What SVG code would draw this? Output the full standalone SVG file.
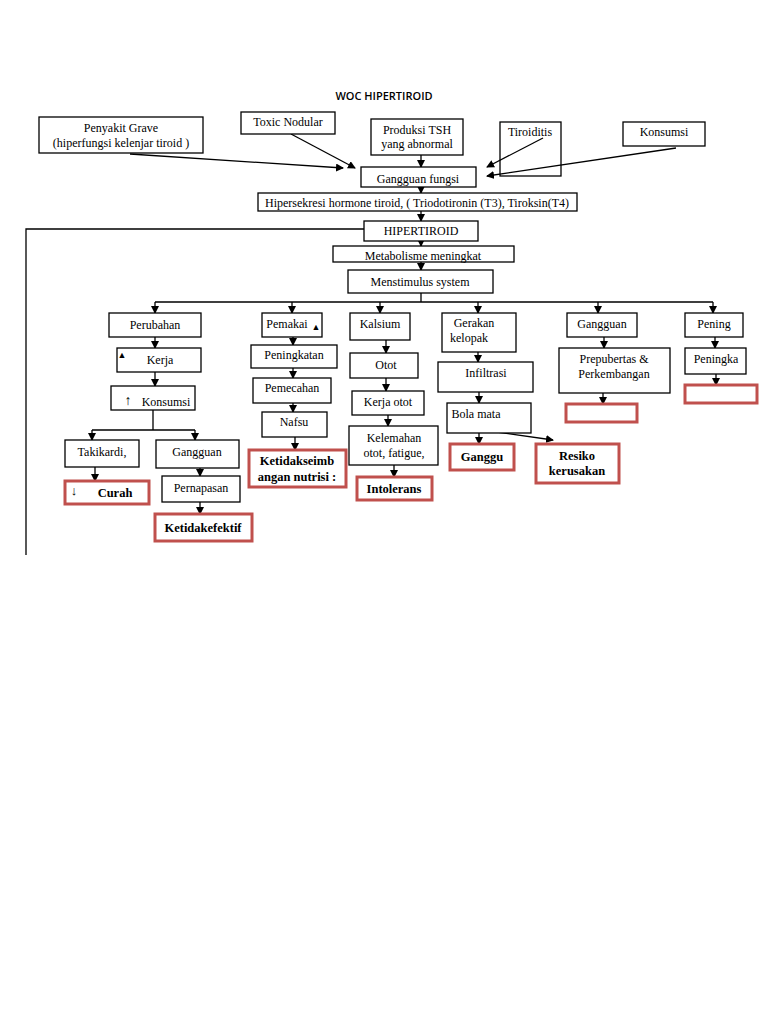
<svg xmlns="http://www.w3.org/2000/svg" width="768" height="1024" viewBox="0 0 768 1024">
<style>
.b{fill:#fff;stroke:#000;stroke-width:1.3}
.r{fill:#fff;stroke:#c0504d;stroke-width:3}
text{font-family:"Liberation Serif",serif;font-size:12px;text-anchor:middle;fill:#000}
.k{font-weight:bold;font-size:12.5px}
.c line,.c path{stroke:#000;stroke-width:1.3;fill:none}
</style>
<defs><marker id="a" markerWidth="8" markerHeight="8" refX="7" refY="4" orient="auto" markerUnits="userSpaceOnUse"><path d="M0,0L8,4L0,8z" fill="#000"/></marker></defs>
<rect width="768" height="1024" fill="#fff"/>
<text x="384" y="100" style="font-family:'Open Sans',sans-serif;font-size:11px;font-weight:600">WOC HIPERTIROID</text>
<g class="c">
<line x1="130" y1="154" x2="343" y2="168" marker-end="url(#a)"/>
<line x1="291" y1="134" x2="355" y2="168" marker-end="url(#a)"/>
<line x1="421" y1="155" x2="421" y2="167" marker-end="url(#a)"/>
<line x1="543" y1="138" x2="487" y2="167" marker-end="url(#a)"/>
<line x1="676" y1="148" x2="487" y2="176" marker-end="url(#a)"/>
<line x1="421" y1="187" x2="421" y2="193" marker-end="url(#a)"/>
<line x1="421" y1="211" x2="421" y2="221" marker-end="url(#a)"/>
<line x1="421" y1="241" x2="421" y2="246" marker-end="url(#a)"/>
<line x1="421" y1="262" x2="421" y2="270" marker-end="url(#a)"/>
<path d="M364,229H26V555"/>
<path d="M421,293V302M155,302H713"/>
<line x1="155" y1="302" x2="155" y2="313" marker-end="url(#a)"/>
<line x1="292" y1="302" x2="292" y2="313" marker-end="url(#a)"/>
<line x1="380" y1="302" x2="380" y2="313" marker-end="url(#a)"/>
<line x1="478" y1="302" x2="478" y2="313" marker-end="url(#a)"/>
<line x1="598" y1="302" x2="598" y2="313" marker-end="url(#a)"/>
<line x1="713" y1="302" x2="713" y2="313" marker-end="url(#a)"/>
<line x1="155" y1="337" x2="155" y2="348" marker-end="url(#a)"/>
<line x1="155" y1="372" x2="155" y2="386" marker-end="url(#a)"/>
<path d="M153,410V430M92,430H195"/>
<line x1="92" y1="430" x2="92" y2="440" marker-end="url(#a)"/>
<line x1="195" y1="430" x2="195" y2="440" marker-end="url(#a)"/>
<line x1="95" y1="467" x2="95" y2="481" marker-end="url(#a)"/>
<line x1="200" y1="468" x2="200" y2="476" marker-end="url(#a)"/>
<line x1="200" y1="502" x2="200" y2="514" marker-end="url(#a)"/>
<line x1="293" y1="337" x2="293" y2="345" marker-end="url(#a)"/>
<line x1="293" y1="368" x2="293" y2="378" marker-end="url(#a)"/>
<line x1="293" y1="403" x2="293" y2="412" marker-end="url(#a)"/>
<line x1="295" y1="437" x2="295" y2="450" marker-end="url(#a)"/>
<line x1="386" y1="340" x2="386" y2="353" marker-end="url(#a)"/>
<line x1="386" y1="378" x2="386" y2="391" marker-end="url(#a)"/>
<line x1="388" y1="415" x2="388" y2="426" marker-end="url(#a)"/>
<line x1="394" y1="465" x2="394" y2="477" marker-end="url(#a)"/>
<line x1="478" y1="352" x2="478" y2="362" marker-end="url(#a)"/>
<line x1="479" y1="392" x2="479" y2="403" marker-end="url(#a)"/>
<line x1="479" y1="433" x2="479" y2="444" marker-end="url(#a)"/>
<line x1="497" y1="432" x2="553" y2="440" marker-end="url(#a)"/>
<line x1="604" y1="337" x2="604" y2="348" marker-end="url(#a)"/>
<line x1="603" y1="393" x2="603" y2="404" marker-end="url(#a)"/>
<line x1="715" y1="337" x2="715" y2="348" marker-end="url(#a)"/>
<line x1="716" y1="374" x2="716" y2="385" marker-end="url(#a)"/>
</g>
<g id="grave"><rect class="b" x="39" y="117" width="164" height="36"/><text x="121" y="132">Penyakit Grave</text><text x="121" y="147">(hiperfungsi kelenjar tiroid )</text></g>
<g id="toxic"><rect class="b" x="241" y="112" width="94" height="22"/><text x="288" y="126">Toxic Nodular</text></g>
<g id="tsh"><rect class="b" x="371" y="119" width="92" height="36"/><text x="417" y="134">Produksi TSH</text><text x="417" y="148">yang abnormal</text></g>
<g id="tiroiditis"><rect class="b" x="500" y="122" width="61" height="54" fill="none" style="fill:none"/><text x="530" y="136">Tiroiditis</text></g>
<g id="konsumsi0"><rect class="b" x="623" y="122" width="82" height="24"/><text x="664" y="136">Konsumsi</text></g>
<g id="fungsi"><rect class="b" x="361" y="167" width="115" height="20"/><text x="418" y="183">Gangguan fungsi</text></g>
<g id="hiper"><rect class="b" x="258" y="193" width="319" height="18"/><text x="417" y="207">Hipersekresi hormone tiroid, ( Triodotironin (T3), Tiroksin(T4)</text></g>
<g id="hipertiroid"><rect class="b" x="364" y="221" width="114" height="20"/><text x="421" y="235">HIPERTIROID</text></g>
<g id="metab"><rect class="b" x="333" y="246" width="181" height="16"/><text x="423" y="260">Metabolisme meningkat</text></g>
<g id="menstim"><rect class="b" x="348" y="270" width="145" height="23"/><text x="420" y="286">Menstimulus system</text></g>
<g id="n1"><rect class="b" x="109" y="313" width="92" height="24"/><text x="155" y="329">Perubahan</text></g>
<g id="n2"><rect class="b" x="117" y="348" width="84" height="24"/><text x="122" y="358" style="font-size:9px">▲</text><text x="160" y="364">Kerja</text></g>
<g id="n3"><rect class="b" x="111" y="386" width="84" height="24"/><text x="128" y="405" style="font-size:14px">↑</text><text x="166" y="406">Konsumsi</text></g>
<g id="n4"><rect class="b" x="65" y="440" width="74" height="27"/><text x="102" y="456">Takikardi,</text></g>
<g id="n5"><rect class="b" x="156" y="440" width="83" height="28"/><text x="197" y="456">Gangguan</text></g>
<g id="n6"><rect class="r" x="65" y="481" width="84" height="23"/><text x="74" y="495" style="font-size:13px">↓</text><text x="115" y="497" class="k">Curah</text></g>
<g id="n7"><rect class="b" x="162" y="476" width="78" height="26"/><text x="201" y="492">Pernapasan</text></g>
<g id="n8"><rect class="r" x="155" y="514" width="97" height="27"/><text x="203" y="532" class="k">Ketidakefektif</text></g>
<g id="m1"><rect class="b" x="262" y="313" width="60" height="24"/><text x="287" y="328">Pemakai</text><text x="316" y="330" style="font-size:9px">▲</text></g>
<g id="m2"><rect class="b" x="251" y="345" width="86" height="23"/><text x="294" y="359">Peningkatan</text></g>
<g id="m3"><rect class="b" x="253" y="378" width="78" height="25"/><text x="292" y="392">Pemecahan</text></g>
<g id="m4"><rect class="b" x="262" y="412" width="65" height="25"/><text x="294" y="426">Nafsu</text></g>
<g id="m5"><rect class="r" x="249" y="450" width="97" height="37"/><text x="297" y="465" class="k">Ketidakseimb</text><text x="297" y="481" class="k">angan nutrisi :</text></g>
<g id="k1"><rect class="b" x="350" y="313" width="60" height="27"/><text x="380" y="328">Kalsium</text></g>
<g id="k2"><rect class="b" x="350" y="353" width="68" height="25"/><text x="386" y="369">Otot</text></g>
<g id="k3"><rect class="b" x="352" y="391" width="72" height="24"/><text x="388" y="406">Kerja otot</text></g>
<g id="k4"><rect class="b" x="349" y="426" width="89" height="39"/><text x="394" y="442">Kelemahan</text><text x="394" y="457">otot, fatigue,</text></g>
<g id="k5"><rect class="r" x="357" y="477" width="75" height="23"/><text x="394" y="493" class="k">Intolerans</text></g>
<g id="g1"><rect class="b" x="442" y="313" width="74" height="39"/><text x="474" y="327">Gerakan</text><text x="469" y="342">kelopak</text></g>
<g id="g2"><rect class="b" x="438" y="362" width="95" height="30"/><text x="486" y="377">Infiltrasi</text></g>
<g id="g3"><rect class="b" x="447" y="403" width="84" height="30"/><text x="476" y="418">Bola mata</text></g>
<g id="g4"><rect class="r" x="450" y="444" width="64" height="26"/><text x="482" y="461" class="k">Ganggu</text></g>
<g id="g5"><rect class="r" x="536" y="444" width="83" height="39"/><text x="577" y="460" class="k">Resiko</text><text x="577" y="475" class="k">kerusakan</text></g>
<g id="p1"><rect class="b" x="567" y="313" width="70" height="24"/><text x="602" y="328">Gangguan</text></g>
<g id="p2"><rect class="b" x="559" y="348" width="111" height="45"/><text x="614" y="363">Prepubertas &amp;</text><text x="614" y="378">Perkembangan</text></g>
<g id="p3"><rect class="r" x="566" y="404" width="71" height="18"/></g>
<g id="h1"><rect class="b" x="685" y="313" width="58" height="24"/><text x="714" y="328">Pening</text></g>
<g id="h2"><rect class="b" x="685" y="348" width="61" height="26"/><text x="716" y="363">Peningka</text></g>
<g id="h3"><rect class="r" x="685" y="385" width="72" height="18"/></g>
</svg>
